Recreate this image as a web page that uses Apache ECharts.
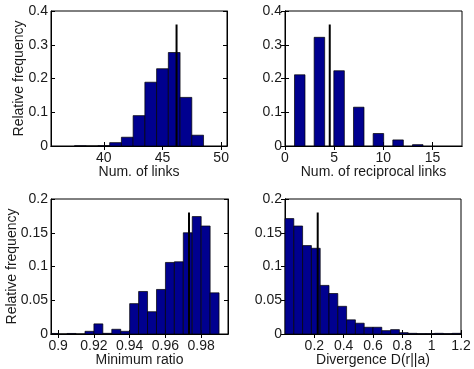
<!DOCTYPE html>
<html>
<head>
<meta charset="utf-8">
<script src="https://cdn.jsdelivr.net/npm/echarts@6/dist/echarts.min.js"></script>
<style>html,body{margin:0;padding:0;background:#fff}#c{width:474px;height:369px}</style>
</head>
<body>
<div id="c"></div>
<script>
// ---- data ----
const linksCenters = [38, 39, 40, 41, 42, 43, 44, 45, 46, 47, 48];
const linksFreq    = [0.0006, 0, 0.001, 0.010, 0.026, 0.090, 0.189, 0.229, 0.277, 0.144, 0.032];
const linksMark = 46.2, linksMarkH = 0.36;

const recipCenters = [1.5, 3.5, 5.5, 7.5, 9.5, 11.5, 13.5];
const recipFreq    = [0.211, 0.322, 0.223, 0.115, 0.037, 0.018, 0.004];
const recipMark = 4.55, recipMarkH = 0.36;

const ratioCenters = [0.8975, 0.9025, 0.9075, 0.9125, 0.9175, 0.9225, 0.9275, 0.9325, 0.9375, 0.9425,
                      0.9475, 0.9525, 0.9575, 0.9625, 0.9675, 0.9725, 0.9775, 0.9825, 0.9875];
const ratioFreq    = [0.0008, 0, 0.0008, 0, 0.004, 0.015, 0.001, 0.007, 0.004, 0.045,
                      0.063, 0.033, 0.066, 0.106, 0.107, 0.150, 0.174, 0.160, 0.061];
const ratioMark = 0.9732, ratioMarkH = 0.18;

const divCenters = [0.03, 0.09, 0.15, 0.21, 0.27, 0.33, 0.39, 0.45, 0.51, 0.57,
                    0.63, 0.69, 0.75, 0.81, 0.87, 0.93, 0.99, 1.05, 1.11, 1.17];
const divFreq    = [0.171, 0.160, 0.131, 0.127, 0.072, 0.060, 0.041, 0.021, 0.016, 0.010,
                    0.010, 0.005, 0.0065, 0.002, 0.001, 0.0005, 0.0005, 0.001, 0.0005, 0.001];
const divMark = 0.223, divMarkH = 0.18;

const linksTicks = [40, 45, 50];
const recipTicks = [0, 5, 10, 15];
const ratioTicks = [0.9, 0.92, 0.94, 0.96, 0.98];
const divTicks = [0.2, 0.4, 0.6, 0.8, 1, 1.2];
const yTicksTop = [0, 0.1, 0.2, 0.3, 0.4];
const yTicksBottom = [0, 0.05, 0.1, 0.15, 0.2];

// ---- chart ----
const FONT = 'Liberation Sans';
const TXT = '#1a1a1a';
const BAR = '#00008f';

const panels = [
  {grid:{left:51, top:11, width:176, height:135}, xmin:35.5, xmax:50.5, ymax:0.4, xt:linksTicks, yt:yTicksTop,
   xname:'Num. of links', yname:'Relative frequency', yGap:25, c:linksCenters, v:linksFreq, w:1, m:linksMark, mh:linksMarkH},
  {grid:{left:285, top:11, width:177, height:135}, xmin:0, xmax:18, ymax:0.4, xt:recipTicks, yt:yTicksTop,
   xname:'Num. of reciprocal links', yname:'', yGap:25, c:recipCenters, v:recipFreq, w:1.07, m:recipMark, mh:recipMarkH},
  {grid:{left:51, top:199, width:177, height:135}, xmin:0.896, xmax:0.995, ymax:0.2, xt:ratioTicks, yt:yTicksBottom,
   xname:'Minimum ratio', yname:'Relative frequency', yGap:32, c:ratioCenters, v:ratioFreq, w:0.005, m:ratioMark, mh:ratioMarkH},
  {grid:{left:285, top:199, width:176, height:135}, xmin:0, xmax:1.2, ymax:0.2, xt:divTicks, yt:yTicksBottom,
   xname:'Divergence D(r||a)', yname:'', yGap:25, c:divCenters, v:divFreq, w:0.06, m:divMark, mh:divMarkH}
];

const grids = [], xAxes = [], yAxes = [], series = [];
const axisLine = {show:true, lineStyle:{color:'#000', width:1}};
panels.forEach((p, i) => {
  grids.push(Object.assign({show:true, borderColor:'#000', borderWidth:1, backgroundColor:'#fff'}, p.grid));
  const xBase = {type:'value', gridIndex:i, min:p.xmin, max:p.xmax, splitLine:{show:false}, axisLine:axisLine};
  xAxes.push(Object.assign({}, xBase, {
    position:'bottom',
    name:p.xname, nameLocation:'middle', nameGap:19, nameMoveOverlap:false,
    nameTextStyle:{fontFamily:FONT, fontSize:14, color:TXT},
    axisTick:{show:true, inside:true, length:4, customValues:p.xt, lineStyle:{color:'#000'}},
    axisLabel:{show:true, customValues:p.xt, margin:5, fontFamily:FONT, fontSize:14, color:TXT, showMinLabel:true, showMaxLabel:true}
  }));
  xAxes.push(Object.assign({}, xBase, {
    position:'top',
    axisTick:{show:true, inside:true, length:4, customValues:p.xt, lineStyle:{color:'#000'}},
    axisLabel:{show:false}
  }));
  const yBase = {type:'value', gridIndex:i, min:0, max:p.ymax, splitLine:{show:false}, axisLine:axisLine};
  yAxes.push(Object.assign({}, yBase, {
    position:'left',
    name:p.yname, nameLocation:'middle', nameGap:p.yGap, nameMoveOverlap:false,
    nameTextStyle:{fontFamily:FONT, fontSize:14, color:TXT},
    axisTick:{show:true, inside:true, length:4, customValues:p.yt, lineStyle:{color:'#000'}},
    axisLabel:{show:true, customValues:p.yt, margin:3, fontFamily:FONT, fontSize:14, color:TXT}
  }));
  yAxes.push(Object.assign({}, yBase, {
    position:'right',
    axisTick:{show:true, inside:true, length:4, customValues:p.yt, lineStyle:{color:'#000'}},
    axisLabel:{show:false}
  }));
  const w = p.w;
  series.push({
    type:'custom', xAxisIndex:2*i, yAxisIndex:2*i,
    data:p.c.map((c, k) => [c, p.v[k]]),
    renderItem:function(params, api){
      const c = api.value(0), v = api.value(1);
      const a = api.coord([c - w/2, 0]);
      const b = api.coord([c + w/2, v]);
      const cs = params.coordSys;
      const shape = echarts.graphic.clipRectByRect(
        {x:a[0], y:b[1], width:b[0]-a[0], height:a[1]-b[1]},
        {x:cs.x, y:cs.y, width:cs.width, height:cs.height});
      if (!shape) return;
      return {type:'rect', shape:shape, style:{fill:BAR, stroke:'#000', lineWidth:0.7}};
    },
    silent:true, z:2
  });
  series.push({
    type:'line', xAxisIndex:2*i, yAxisIndex:2*i,
    data:[[p.m, 0], [p.m, p.mh]], symbol:'none',
    lineStyle:{color:'#000', width:2}, silent:true, z:3
  });
});

const chart = echarts.init(document.getElementById('c'), null, {renderer:'canvas'});
chart.setOption({animation:false, grid:grids, xAxis:xAxes, yAxis:yAxes, series:series});
</script>
</body>
</html>
